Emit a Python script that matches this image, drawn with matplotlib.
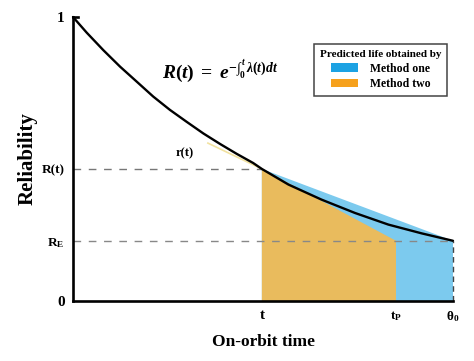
import matplotlib
matplotlib.use("Agg")
import matplotlib.pyplot as plt
from matplotlib.patches import Patch

plt.rcParams['font.family'] = ['Liberation Serif', 'DejaVu Serif']
plt.rcParams['mathtext.fontset'] = 'custom'
plt.rcParams['mathtext.rm'] = 'Liberation Serif:bold'
plt.rcParams['mathtext.it'] = 'Liberation Serif:bold:italic'
plt.rcParams['mathtext.bf'] = 'Liberation Serif:bold'

# reliability curve (time normalised to theta0 = 1)
curve_x = [0.0, 0.036, 0.080, 0.124, 0.168, 0.211, 0.255, 0.299, 0.343,
           0.387, 0.431, 0.474, 0.497, 0.567, 0.654, 0.742, 0.830, 0.918, 1.0]
curve_y = [1.0, 0.945, 0.883, 0.825, 0.772, 0.720, 0.673, 0.631, 0.590,
           0.553, 0.518, 0.486, 0.465, 0.410, 0.357, 0.310, 0.269, 0.238, 0.212]

t_now = 0.497
t_pred = 0.85
theta0 = 1.0
R_t = 0.465
R_E = 0.212

# tangent r(t) drawn back from the current point
tangent_x = [0.355, t_now]
tangent_y = [0.556, R_t]

# region shapes (method one: chord to theta0, method two: tangent to R_E)
m1_x = [t_now, t_now, theta0, theta0]
m1_y = [0.0, R_t, R_E, 0.0]
m2_x = [t_now, t_now, t_pred, t_pred]
m2_y = [0.0, R_t, R_E, 0.0]

fill_blue = '#7ccaee'
fill_orange = '#e9bb5d'
legend_blue = '#1ca2e3'
legend_orange = '#f6a11c'

fig = plt.figure(figsize=(4.74, 3.61), dpi=100)
ax = fig.add_axes([73 / 474, 60 / 361, 380 / 474, 284 / 361])

ax.fill(m1_x, m1_y, color=fill_blue, lw=0, zorder=1)
ax.fill(m2_x, m2_y, color=fill_orange, lw=0, zorder=2)

dash = (0, (5.5, 5.5))
ax.plot([0, t_now], [R_t, R_t], color='#777777', lw=1.0, linestyle=dash, zorder=3)
ax.plot([0, theta0], [R_E, R_E], color='#888888', lw=1.0, linestyle=dash, zorder=3)
ax.plot([theta0, theta0], [0, R_E], color='#444444', lw=1.0,
        linestyle=(0, (4, 3)), zorder=3, clip_on=False)

ax.plot(tangent_x, tangent_y, color='#f2e2a0', lw=1.2, zorder=4)
ax.plot(curve_x, curve_y, color='black', lw=1.7, zorder=5, clip_on=False,
        solid_capstyle='round', solid_joinstyle='round')

ax.set_xlim(0, 1.0)
ax.set_ylim(0, 1.0)
for s in ['top', 'right']:
    ax.spines[s].set_visible(False)
for s in ['left', 'bottom']:
    ax.spines[s].set_linewidth(1.9)
    ax.spines[s].set_zorder(6)

# small cap at the top of the y axis
ax.plot([0, 0.014], [1.0, 1.0], color='black', lw=1.9, clip_on=False, zorder=6)

ax.set_yticks([0, R_E, R_t, 1.0])
ax.set_yticklabels(['0', r'$\mathbf{R}_{\mathbf{E}}$', 'R(t)', '1'])
ax.set_xticks([t_now, t_pred, theta0])
ax.set_xticklabels(['t', r'$\mathbf{t}_{\mathbf{P}}$', r'$\mathbf{\theta}_{\mathbf{0}}$'])
ax.tick_params(length=0, pad=6)
for lab in ax.get_yticklabels() + ax.get_xticklabels():
    lab.set_fontweight('bold')
    lab.set_fontsize(9.5)
ax.get_yticklabels()[3].set_fontsize(11)
ax.get_yticklabels()[0].set_fontsize(11)
ax.get_xticklabels()[0].set_fontsize(11)

ax.set_ylabel('Reliability', fontsize=15, fontweight='bold', labelpad=3)
ax.set_xlabel('On-orbit time', fontsize=12.5, fontweight='bold', labelpad=7)

ax.text(0.235, 0.81, r'$R(t)\;=\;e^{-\int_0^t\,\lambda(t)dt}$', fontsize=14,
        ha='left', va='center')
ax.text(0.293, 0.52, 'r(t)', fontsize=9, fontweight='bold', ha='center', va='center')

handles = [Patch(facecolor=legend_blue, edgecolor='none', label='Method one'),
           Patch(facecolor=legend_orange, edgecolor='none', label='Method two')]
leg = ax.legend(handles=handles, title='Predicted life obtained by',
                loc='upper left', bbox_to_anchor=(0.618, 0.925),
                fancybox=False, edgecolor='#444444', framealpha=1,
                prop={'weight': 'bold', 'size': 8.5},
                title_fontproperties={'weight': 'bold', 'size': 8},
                handlelength=2.3, handleheight=0.7, labelspacing=0.3,
                borderpad=0.5, handletextpad=1.0)
leg.get_frame().set_linewidth(1.1)

fig.savefig('out.png', dpi=100)
